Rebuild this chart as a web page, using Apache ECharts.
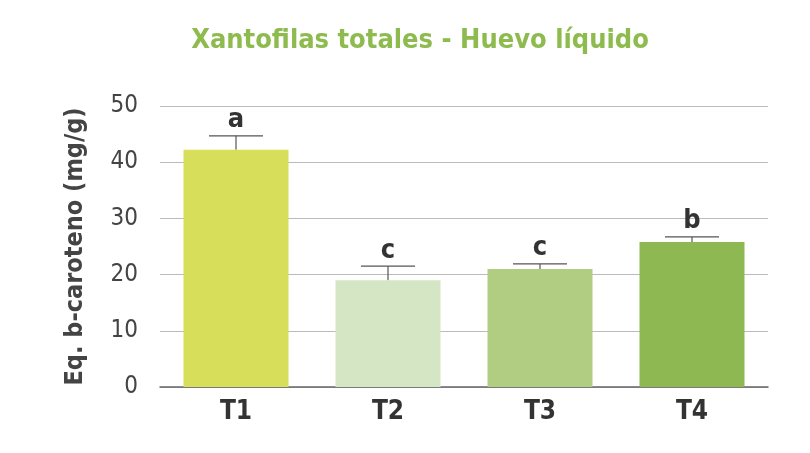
<!DOCTYPE html>
<html>
<head>
<meta charset="utf-8">
<script src="https://cdn.jsdelivr.net/npm/echarts@6/dist/echarts.min.js"></script>
<style>html,body{margin:0;padding:0;background:#fff}#chart{width:810px;height:453px}</style>
</head>
<body>
<div id="chart"></div>
<script>
var categories = ['T1', 'T2', 'T3', 'T4'];
var values = [42.2, 19.0, 21.0, 25.8];
var errors = [2.5, 2.5, 0.9, 0.9];
var letters = ['a', 'c', 'c', 'b'];
var colors = ['#d7df5a', '#d5e6c5', '#b1cd82', '#8db852'];

var font = '"Liberation Sans Narrow", "DejaVu Sans Condensed", sans-serif';
var chart = echarts.init(document.getElementById('chart'));

var option = {
    title: {
        text: 'Xantofilas totales - Huevo líquido',
        left: 415, top: 22, textAlign: 'center',
        textStyle: { color: '#8dbb4e', fontSize: 27, fontWeight: 'bold', fontFamily: font }
    },
    grid: { left: 160, right: 42, top: 106, bottom: 66 },
    xAxis: {
        type: 'category', data: categories,
        axisTick: { show: false },
        axisLine: { lineStyle: { color: '#666', width: 1.5 } },
        axisLabel: { color: '#333', fontSize: 26, fontWeight: 'bold', fontFamily: font, margin: 12 }
    },
    yAxis: {
        type: 'value', min: 0, max: 50, interval: 10,
        name: 'Eq. b-caroteno (mg/g)', nameLocation: 'middle', nameGap: 72, nameRotate: 90,
        nameTextStyle: { color: '#444', fontSize: 25, fontWeight: 'bold', fontFamily: font },
        axisLine: { show: false }, axisTick: { show: false },
        axisLabel: { color: '#444', fontSize: 24, fontFamily: font, margin: 22 },
        splitLine: { lineStyle: { color: '#bbb' } }
    },
    series: [{
        type: 'bar', barWidth: 105,
        data: values.map(function (v, i) { return { value: v, itemStyle: { color: colors[i] } }; })
    }, {
        type: 'custom',
        data: values.map(function (v, i) { return [i, v, v + errors[i]]; }),
        renderItem: function (params, api) {
            var x = api.coord([api.value(0), api.value(1)]);
            var top = api.coord([api.value(0), api.value(2)]);
            var i = params.dataIndex;
            var st = { stroke: '#555', lineWidth: 1.2 };
            return {
                type: 'group', children: [
                    { type: 'line', shape: { x1: x[0], y1: x[1], x2: top[0], y2: top[1] }, style: st },
                    { type: 'line', shape: { x1: x[0] - 27, y1: top[1], x2: x[0] + 27, y2: top[1] }, style: st },
                    { type: 'text', style: { text: letters[i], x: x[0], y: top[1] - 2, textAlign: 'center', textVerticalAlign: 'bottom',
                        fill: '#333', font: 'bold 27px ' + font } }
                ]
            };
        }
    }]
};

chart.setOption(option);
</script>
</body>
</html>
